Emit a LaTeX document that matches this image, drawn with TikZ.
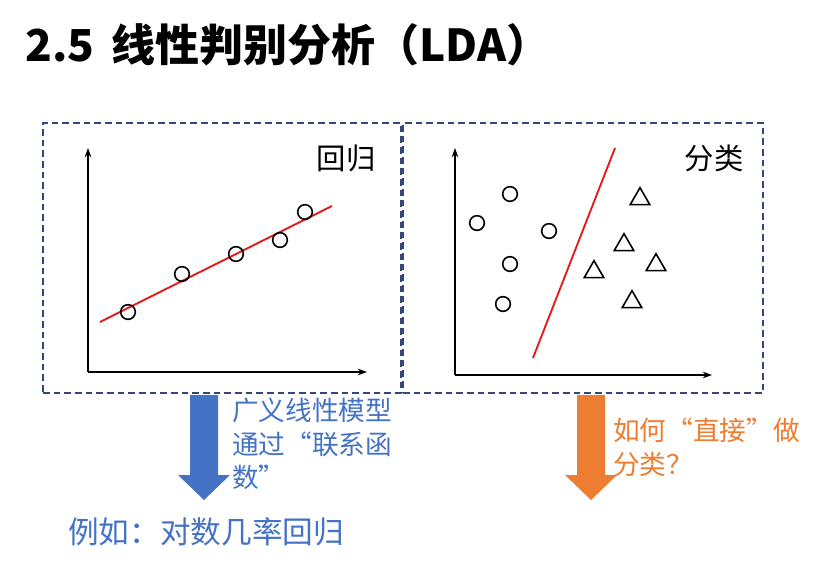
\documentclass[tikz,border=0pt]{standalone}
\usepackage{fontspec}
\setmainfont{Noto Sans CJK SC}
\usetikzlibrary{arrows.meta,shapes.geometric}
\definecolor{boxc}{HTML}{2F4A7A}
\definecolor{bluea}{HTML}{4472C4}
\definecolor{orangea}{HTML}{ED7D31}
\definecolor{redl}{HTML}{E31A1C}
\begin{document}
\begin{tikzpicture}[x=0.75pt,y=-0.75pt,
  dbox/.style={draw=boxc,dashed,line width=1.3pt,dash pattern=on 5pt off 3pt},
  axis/.style={-{Stealth[length=7pt,width=5pt]},line width=0.9pt},
  fitl/.style={draw=redl,line width=1.4pt},
  pt/.style={circle,draw,line width=1.2pt,minimum size=11pt,inner sep=0pt},
  tri/.style={regular polygon,regular polygon sides=3,draw,line width=1.2pt,minimum size=17pt,inner sep=0pt},
  lab/.style={font=\fontsize{22}{26}\selectfont,inner sep=0pt},
  note/.style={font=\fontsize{20}{25}\selectfont,inner sep=0pt,anchor=north west,align=left}]
\useasboundingbox (0,0) rectangle (826,562);
\node[anchor=west,inner sep=0pt,font=\fontsize{33}{38}\selectfont\bfseries] (title) at (25,45) {2.5\, 线性判别分析（LDA）};
\node[dbox,minimum width=358*0.75pt,minimum height=270*0.75pt,anchor=north west] (bl) at (42,122) {};
\node[dbox,minimum width=360*0.75pt,minimum height=270*0.75pt,anchor=north west] (br) at (402,122) {};
% left
\coordinate (o1) at (88,372); \coordinate (y1) at (88,148); \coordinate (x1) at (367,372);
\draw[axis] (o1) -- (y1); \draw[axis] (o1) -- (x1);
\coordinate (r1a) at (100,322); \coordinate (r1b) at (332,206);
\draw[fitl] (r1a) -- (r1b);
\foreach \n/\p in {a/{(128,312)},b/{(182,274)},c/{(236,254)},d/{(280,240)},e/{(305,212)}}
  \node[pt] (c\n) at \p {};
\node[lab] (reg) at (346,158) {回归};
% right
\coordinate (o2) at (455,375); \coordinate (y2) at (455,148); \coordinate (x2) at (712,375);
\draw[axis] (o2) -- (y2); \draw[axis] (o2) -- (x2);
\coordinate (r2a) at (533,358); \coordinate (r2b) at (615,148);
\draw[fitl] (r2a) -- (r2b);
\foreach \n/\p in {a/{(477,223)},b/{(510,194)},c/{(549,231)},d/{(510,264)},e/{(503,304)}}
  \node[pt] (d\n) at \p {};
\foreach \n/\p in {a/{(640,199)},b/{(624,245)},c/{(656,265)},d/{(594,272)},e/{(632,302)}}
  \node[tri] (t\n) at \p {};
\node[lab] (cls) at (714,158) {分类};
% arrows
\fill[bluea] (190,395) -- (218,395) -- (218,475) -- (230,475) -- (204,500) -- (178,475) -- (190,475) -- cycle;
\fill[orangea] (577,395) -- (605,395) -- (605,475) -- (617,475) -- (591,500) -- (565,475) -- (577,475) -- cycle;
\node[note,text=bluea] (n1) at (232,398) {广义线性模型\\通过“联系函\\数”};
\node[note,text=bluea,font=\fontsize{23}{26}\selectfont,anchor=west] (n2) at (68,532) {例如：对数几率回归};
\node[note,text=orangea] (n3) at (613,418) {如何“直接”做\\分类？};
\end{tikzpicture}
\end{document}
